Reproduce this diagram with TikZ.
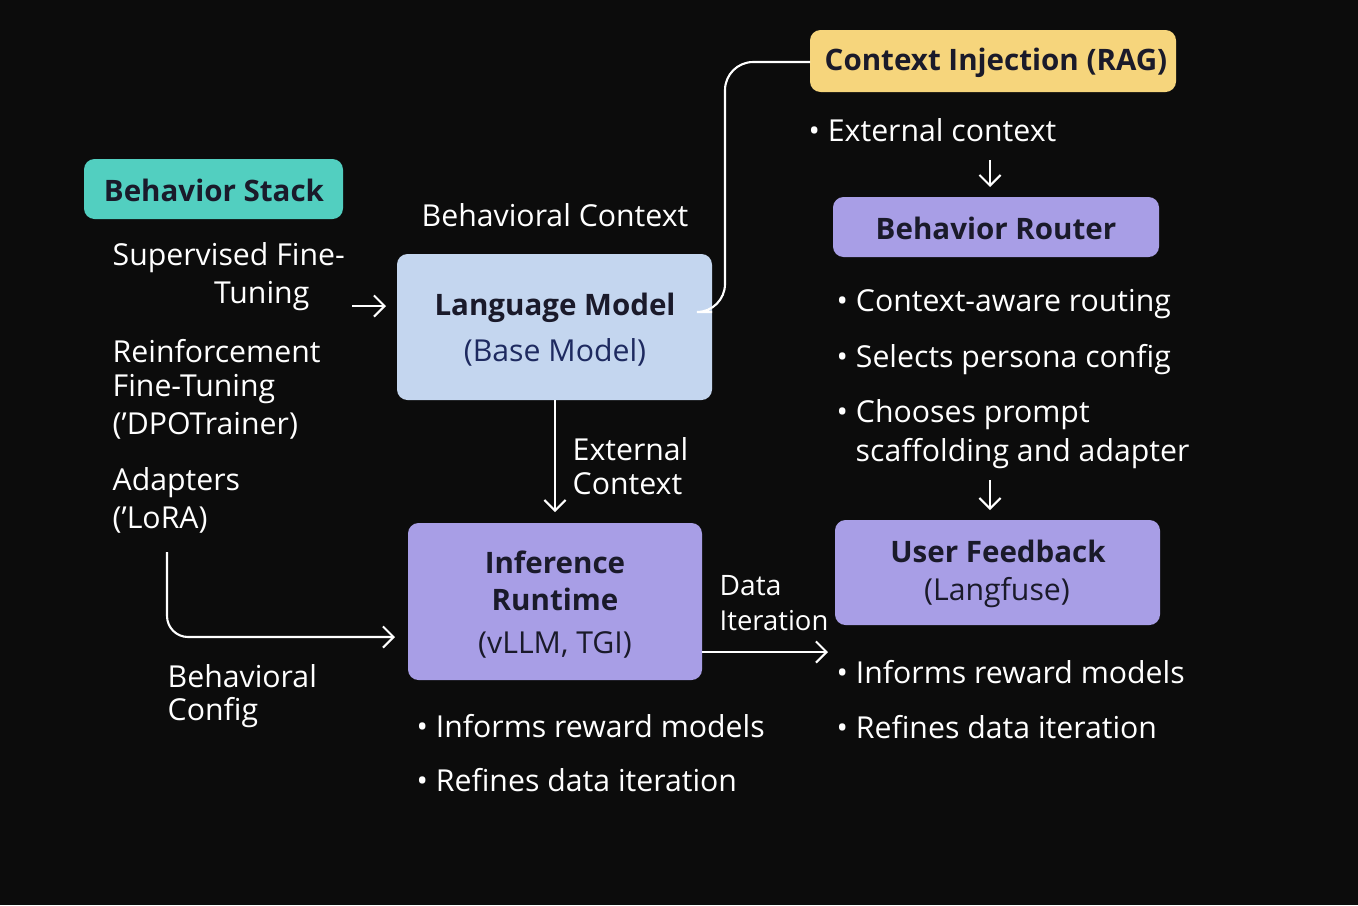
\documentclass[tikz,border=0pt]{standalone}
\usepackage{fontspec}
\setmainfont{Open Sans}
\usetikzlibrary{arrows.meta}
\definecolor{bg}{HTML}{0C0C0C}
\definecolor{teal}{HTML}{52CFC0}
\definecolor{lblue}{HTML}{C4D6EF}
\definecolor{lav}{HTML}{A89EE6}
\definecolor{yel}{HTML}{F6D57C}
\definecolor{ink}{HTML}{1A1A2A}
\definecolor{navy}{HTML}{1E2A60}
\begin{document}
\begin{tikzpicture}[x=0.01cm,y=-0.01cm,
  lbl/.style={text=white,font=\fontsize{8.6}{11}\selectfont,anchor=west,inner sep=0pt},
  btxt/.style={text=ink,font=\fontsize{8.4}{11}\selectfont\bfseries,inner sep=0pt},
  arr/.style={draw=white,line width=0.6pt,-{Straight Barb[length=3pt,width=6pt]}}]
\fill[bg] (0,0) rectangle (1358,905);
\useasboundingbox (0,0) rectangle (1358,905);
% boxes
\fill[teal,rounded corners=3pt] (84,159) rectangle (343,219);
\node[btxt] (bs) at (214,190) {Behavior Stack};
\fill[lblue,rounded corners=3pt] (397,254) rectangle (712,400);
\coordinate (lmB) at (555,400); \coordinate (lmR) at (712,312);
\node[btxt] (lm) at (555,308) {Language Model};
\node[inner sep=0pt,text=navy,font=\fontsize{8.6}{11}\selectfont] (lm2) at (555,352) {(Base Model)};
\fill[yel,rounded corners=3pt] (810,30) rectangle (1176,92);
\coordinate (ciL) at (810,62);
\node[btxt] (ci) at (996,63) {Context Injection (RAG)};
\fill[lav,rounded corners=3pt] (833,197) rectangle (1159,257);
\node[btxt] (br) at (996,228) {Behavior Router};
\fill[lav,rounded corners=3pt] (835,520) rectangle (1160,625);
\node[btxt] (uf) at (998,551) {User Feedback};
\node[inner sep=0pt,text=ink,font=\fontsize{8.6}{11}\selectfont] (uf2) at (997,593) {(Langfuse)};
\fill[lav,rounded corners=3pt] (408,523) rectangle (702,680);
\node[btxt] (ir1) at (555,562) {Inference};
\node[btxt] (ir2) at (555,599) {Runtime};
\node[inner sep=0pt,text=ink,font=\fontsize{8.6}{11}\selectfont] (ir3) at (555,645) {(vLLM, TGI)};
% labels
\node[lbl] (t1) at (112,258) {Supervised Fine-};
\node[lbl,anchor=east] (t2) at (310,296) {Tuning};
\node[lbl] (t3) at (112,351) {Reinforcement};
\node[lbl] (t4) at (112,389) {Fine-Tuning};
\node[lbl] (t5) at (112,426) {('DPOTrainer)};
\node[lbl] (t6) at (112,483) {Adapters};
\node[lbl] (t7) at (112,520) {('LoRA)};
\node[lbl] (t8) at (167,676) {Behavioral};
\node[lbl] (t9) at (167,713) {Config};
\node[lbl,anchor=center] (bc) at (555,215) {Behavioral Context};
\node[lbl] (ec1) at (572,449) {External};
\node[lbl] (ec2) at (572,484) {Context};
\node[lbl,font=\fontsize{8}{10}\selectfont] (d1) at (719,586) {Data};
\node[lbl,font=\fontsize{7.8}{10}\selectfont] (d2) at (719,621) {Iteration};
\node[lbl] (b0) at (808,130) {• External context};
\node[lbl] (b1) at (836,304) {• Context-aware routing};
\node[lbl] (b2) at (836,360) {• Selects persona config};
\node[lbl] (b3) at (836,415) {• Chooses prompt};
\node[lbl] (b4) at (855,454) {scaffolding and adapter};
\node[lbl] (b5) at (836,672) {• Informs reward models};
\node[lbl] (b6) at (836,727) {• Refines data iteration};
\node[lbl] (b7) at (416,726) {• Informs reward models};
\node[lbl] (b8) at (416,780) {• Refines data iteration};
% connectors
\coordinate (a1) at (352,306); \coordinate (a2) at (386,306);
\draw[arr] (a1) -- (a2);
\draw[arr] (lmB) -- (555,512);
\draw[white,line width=0.6pt,rounded corners=8pt] (lmR) -- (725,312) -- (725,62) -- (ciL);
\coordinate (c1) at (990,160); \coordinate (c2) at (990,187);
\draw[arr] (c1) -- (c2);
\coordinate (c3) at (990,480); \coordinate (c4) at (990,510);
\draw[arr] (c3) -- (c4);
\draw[white,line width=0.6pt,rounded corners=6pt,-{Straight Barb[length=3pt,width=6pt]}] (167,552) -- (167,637) -- (395,637);
\draw[arr] (702,652) -- (828,652);
\end{tikzpicture}
\end{document}
